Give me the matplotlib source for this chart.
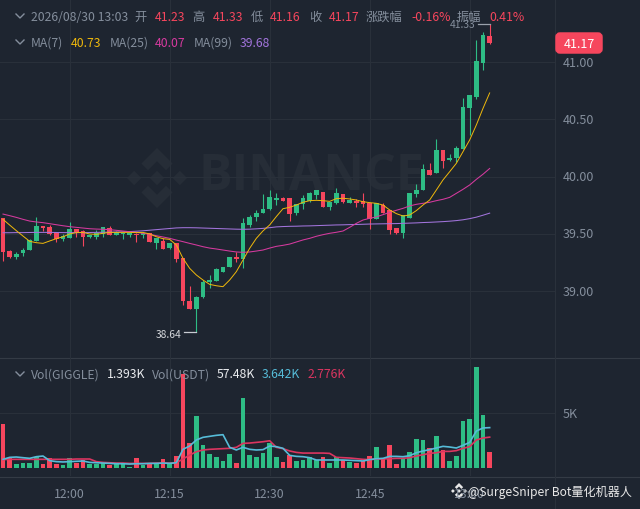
import matplotlib

matplotlib.use("Agg")
import matplotlib.pyplot as plt
from matplotlib.lines import Line2D
from matplotlib.patches import FancyBboxPatch, Polygon

plt.rcParams["font.family"] = ["Noto Sans CJK SC", "DejaVu Sans"]

# candles, one per minute, 11:50 to 13:03
opens = [39.64, 39.35, 39.30, 39.33, 39.358, 39.44, 39.57, 39.557, 39.51, 39.45,
         39.46, 39.54, 39.527, 39.47, 39.47, 39.50, 39.55, 39.49, 39.495, 39.489,
         39.497, 39.489, 39.503, 39.417, 39.44, 39.378, 39.416, 39.285, 38.91, 38.843,
         38.95, 39.078, 39.09, 39.169, 39.21, 39.30, 39.28, 39.573, 39.649, 39.684,
         39.72, 39.792, 39.812, 39.81, 39.679, 39.757, 39.789, 39.839, 39.868, 39.731,
         39.766, 39.847, 39.772, 39.789, 39.783, 39.766, 39.629, 39.751, 39.708, 39.547,
         39.51, 39.641, 39.847, 39.882, 40.057, 40.03, 40.23, 40.14, 40.158, 40.24,
         40.60, 40.697, 40.988, 41.23]
highs = [39.64, 39.36, 39.34, 39.38, 39.45, 39.643, 39.572, 39.577, 39.51, 39.495,
         39.605, 39.54, 39.53, 39.49, 39.532, 39.562, 39.567, 39.52, 39.51, 39.505,
         39.51, 39.505, 39.51, 39.465, 39.465, 39.42, 39.42, 39.29, 39.04, 38.956,
         39.096, 39.14, 39.198, 39.21, 39.30, 39.338, 39.635, 39.664, 39.707, 39.847,
         39.885, 39.859, 39.824, 39.81, 39.757, 39.836, 39.868, 39.882, 39.868, 39.78,
         39.897, 39.85, 39.818, 39.80, 39.853, 39.766, 39.77, 39.766, 39.71, 39.55,
         39.664, 39.86, 39.935, 40.106, 40.115, 40.325, 40.23, 40.193, 40.267, 40.69,
         40.715, 41.192, 41.265, 41.33]
lows = [39.26, 39.285, 39.28, 39.31, 39.358, 39.44, 39.527, 39.49, 39.425, 39.44,
        39.46, 39.475, 39.396, 39.466, 39.454, 39.475, 39.489, 39.49, 39.454, 39.475,
        39.43, 39.465, 39.43, 39.367, 39.37, 39.37, 39.256, 38.878, 38.84, 38.64,
        38.94, 39.03, 39.09, 39.169, 39.21, 39.256, 39.204, 39.556, 39.614, 39.684,
        39.707, 39.751, 39.783, 39.615, 39.664, 39.714, 39.78, 39.801, 39.731, 39.708,
        39.76, 39.766, 39.766, 39.737, 39.731, 39.542, 39.629, 39.679, 39.498, 39.50,
        39.466, 39.64, 39.824, 39.88, 40.01, 40.03, 40.077, 40.135, 40.124, 40.24,
        40.362, 40.674, 40.93, 41.16]
closes = [39.34, 39.30, 39.32, 39.36, 39.445, 39.57, 39.553, 39.50, 39.454, 39.48,
          39.54, 39.512, 39.474, 39.489, 39.503, 39.556, 39.489, 39.518, 39.51, 39.503,
          39.49, 39.503, 39.43, 39.46, 39.37, 39.416, 39.28, 38.915, 38.84, 38.95,
          39.078, 39.10, 39.19, 39.207, 39.30, 39.28, 39.59, 39.649, 39.684, 39.72,
          39.818, 39.81, 39.789, 39.673, 39.757, 39.81, 39.859, 39.879, 39.731, 39.78,
          39.859, 39.78, 39.795, 39.772, 39.76, 39.629, 39.766, 39.684, 39.533, 39.504,
          39.664, 39.859, 39.882, 40.065, 40.01, 40.23, 40.138, 40.158, 40.246, 40.61,
          40.712, 41.009, 41.239, 41.17]

ma7 = [39.626, 39.576, 39.527, 39.48, 39.434, 39.422, 39.416, 39.437, 39.457, 39.474,
       39.498, 39.51, 39.512, 39.498, 39.495, 39.504, 39.512, 39.512, 39.512, 39.512,
       39.51, 39.512, 39.498, 39.474, 39.457, 39.451, 39.402, 39.285, 39.198, 39.14,
       39.096, 39.058, 39.046, 39.038, 39.096, 39.169, 39.271, 39.373, 39.46, 39.525,
       39.577, 39.65, 39.719, 39.731, 39.751, 39.775, 39.789, 39.792, 39.789, 39.783,
       39.807, 39.81, 39.804, 39.795, 39.78, 39.772, 39.766, 39.751, 39.708, 39.676,
       39.655, 39.664, 39.702, 39.751, 39.795, 39.882, 39.97, 40.042, 40.115, 40.217,
       40.319, 40.45, 40.595, 40.73]
ma25 = [39.672, 39.658, 39.643, 39.626, 39.611, 39.603, 39.597, 39.588, 39.579, 39.57,
        39.562, 39.556, 39.55, 39.544, 39.541, 39.539, 39.536, 39.53, 39.524, 39.518,
        39.512, 39.504, 39.495, 39.483, 39.472, 39.46, 39.445, 39.431, 39.416, 39.402,
        39.387, 39.375, 39.367, 39.358, 39.349, 39.341, 39.338, 39.341, 39.349, 39.358,
        39.375, 39.39, 39.399, 39.41, 39.428, 39.446, 39.46, 39.478, 39.492, 39.504,
        39.513, 39.524, 39.556, 39.591, 39.62, 39.635, 39.647, 39.667, 39.687, 39.705,
        39.722, 39.743, 39.757, 39.766, 39.775, 39.789, 39.801, 39.818, 39.853, 39.888,
        39.926, 39.975, 40.02, 40.07]
ma99 = [39.509, 39.509, 39.51, 39.51, 39.511, 39.512, 39.512, 39.512, 39.511, 39.51,
        39.51, 39.51, 39.51, 39.511, 39.512, 39.513, 39.514, 39.515, 39.517, 39.519,
        39.522, 39.526, 39.531, 39.536, 39.541, 39.546, 39.551, 39.553, 39.553, 39.552,
        39.55, 39.548, 39.546, 39.544, 39.542, 39.54, 39.539, 39.54, 39.543, 39.547,
        39.553, 39.56, 39.563, 39.565, 39.566, 39.568, 39.569, 39.571, 39.573, 39.575,
        39.577, 39.578, 39.58, 39.581, 39.583, 39.585, 39.586, 39.587, 39.588, 39.589,
        39.591, 39.593, 39.595, 39.598, 39.6, 39.603, 39.606, 39.61, 39.615, 39.622,
        39.632, 39.645, 39.662, 39.68]

# volume in thousands
volumes = [3.97, 0.85, 0.30, 0.39, 0.45, 1.0, 0.30, 0.85, 0.33, 0.24,
           0.85, 0.45, 0.70, 0.30, 0.33, 0.39, 0.24, 0.30, 0.33, 0.10,
           0.85, 0.24, 0.30, 0.33, 0.76, 0.30, 1.09, 8.5, 2.2, 4.7,
           2.06, 1.24, 0.97, 0.64, 1.24, 0.45, 6.3, 1.15, 1.0, 1.36,
           2.2, 0.94, 0.48, 1.15, 0.58, 0.70, 0.94, 0.70, 0.94, 0.45,
           0.94, 0.70, 0.50, 0.42, 0.64, 1.06, 1.85, 0.76, 2.06, 0.30,
           0.76, 1.39, 2.58, 2.52, 1.82, 2.88, 1.6, 0.64, 1.06, 4.27,
           4.42, 9.12, 4.79, 1.393]
vol_fast = [0.76, 0.94, 0.97, 0.91, 0.85, 1.0, 1.06, 0.64, 0.55, 0.52,
            0.55, 0.58, 0.61, 0.48, 0.45, 0.42, 0.39, 0.36, 0.36, 0.33,
            0.36, 0.36, 0.39, 0.39, 0.42, 0.39, 0.45, 1.67, 1.97, 2.52,
            2.76, 2.85, 2.94, 3.0, 1.85, 1.61, 1.85, 1.67, 1.61, 1.64,
            1.97, 1.91, 1.76, 1.12, 1.03, 1.0, 0.91, 0.70, 0.70, 0.70,
            0.70, 0.70, 0.67, 0.64, 0.61, 0.73, 0.82, 0.85, 1.03, 1.03,
            1.0, 1.09, 1.36, 1.52, 1.64, 1.79, 1.94, 1.88, 1.79, 2.03,
            2.3, 3.33, 3.61, 3.642]
vol_slow = [0.73, 0.76, 0.76, 0.76, 0.76, 0.76, 0.76, 0.76, 0.76, 0.76,
            0.76, 0.79, 0.79, 0.79, 0.55, 0.48, 0.45, 0.42, 0.42, 0.39,
            0.39, 0.39, 0.39, 0.42, 0.42, 0.42, 0.45, 0.79, 1.15, 1.45,
            1.61, 1.67, 1.70, 1.73, 1.76, 1.85, 2.21, 2.24, 2.30, 2.36,
            2.45, 1.85, 1.73, 1.52, 1.39, 1.33, 1.33, 1.33, 1.33, 1.30,
            0.94, 0.91, 0.88, 0.82, 0.76, 0.73, 0.79, 0.79, 0.82, 0.85,
            0.85, 0.91, 1.06, 1.18, 1.30, 1.36, 1.48, 1.48, 1.55, 1.76,
            1.91, 2.52, 2.70, 2.776]

price_ticks = [39.0, 39.5, 40.0, 40.5, 41.0]
time_ticks = [10, 25, 40, 55, 70]
time_labels = ["12:00", "12:15", "12:30", "12:45", "13:00"]

BG = "#1e2530"
GRID = "#2a313b"
LINE = "#343b45"
MUTED = "#848e9c"
UP = "#2ebd85"
DOWN = "#f6465d"
YELLOW = "#f0b90b"
PINK = "#d63a9f"
PURPLE = "#a274dc"
CYAN = "#56bcd8"
VOL_RED = "#db3560"
MARK = "#262d37"

W, H = 640, 509
fig = plt.figure(figsize=(W / 100, H / 100), dpi=100, facecolor=BG)


def px_axes(left, top, right, bottom, z):
    return fig.add_axes(
        [left / W, 1 - bottom / H, (right - left) / W, (bottom - top) / H], zorder=z
    )


def chevron(ax, x, y):
    ax.plot([x, x + 4, x + 8], [y - 2, y + 2, y - 2], color=MUTED, lw=1)


def diamond(ax, cx, cy, s, color):
    ax.add_patch(Polygon([(cx - s, cy), (cx, cy - s), (cx + s, cy), (cx, cy + s)], color=color, lw=0))


def binance_mark(ax, cx, cy, r, color):
    # square in the middle, side squares, and the chevrons above and below
    s = r * 0.24
    diamond(ax, cx, cy, s, color)
    diamond(ax, cx - r * 0.76, cy, s, color)
    diamond(ax, cx + r * 0.76, cy, s, color)
    a, t = r * 0.52, r * 0.22
    for sy in (-1, 1):
        ax.add_patch(Polygon(
            [(cx - a, cy + sy * (r - a)), (cx, cy + sy * r), (cx + a, cy + sy * (r - a)),
             (cx + a - t, cy + sy * (r - a - t)), (cx, cy + sy * (r - 2 * t)),
             (cx - a + t, cy + sy * (r - a - t))], color=color, lw=0))


# background layer: separators and watermark
back = px_axes(0, 0, W, H, 0)
back.set_xlim(0, W)
back.set_ylim(H, 0)
back.axis("off")
back.add_line(Line2D([0, W], [358, 358], color=LINE, lw=0.8))
back.add_line(Line2D([0, W], [476.5, 476.5], color=LINE, lw=0.8))
back.add_line(Line2D([555, 555], [0, H], color=GRID, lw=0.8))
binance_mark(back, 157, 178, 30, MARK)
back.text(311, 177, "BINANCE", color=MARK, fontsize=36, fontweight="bold",
          family="Open Sans", ha="center", va="center")

# price panel
ax = px_axes(0, 0, 555, 358, 1)
ax.patch.set_alpha(0)
ax.set_xlim(-0.45, 82.8)
ax.set_ylim(38.415, 41.5415)
ax.set_xticks(time_ticks)
ax.set_yticks(price_ticks)
ax.tick_params(left=False, bottom=False, labelleft=False, labelbottom=False)
ax.grid(True, color=GRID, lw=0.7)
ax.set_axisbelow(True)
for s in ax.spines.values():
    s.set_visible(False)

for i in range(len(opens)):
    color = UP if closes[i] >= opens[i] else DOWN
    ax.vlines(i, lows[i], highs[i], color=color, lw=0.8, zorder=2)
    ax.bar(i, abs(closes[i] - opens[i]), bottom=min(opens[i], closes[i]), width=0.72,
           color=color, lw=0, zorder=3)

x_idx = list(range(len(opens)))
ax.plot(x_idx, ma99, color=PURPLE, lw=0.75, zorder=4)
ax.plot(x_idx, ma25, color=PINK, lw=0.75, zorder=4)
ax.plot(x_idx, ma7, color=YELLOW, lw=0.7, zorder=4)

# high and low markers
ax.plot([71.3, 73], [41.33, 41.33], color="#9aa1ab", lw=0.9, zorder=4)
ax.plot([27.15, 29], [38.64, 38.64], color="#c8ccd2", lw=0.9, zorder=4)

# volume panel
vol = px_axes(0, 358, 555, 476, 1)
vol.patch.set_alpha(0)
vol.set_xlim(-0.45, 82.8)
vol.set_ylim(-0.755, 9.97)
vol.set_xticks(time_ticks)
vol.set_yticks([5])
vol.tick_params(left=False, bottom=False, labelleft=False, labelbottom=False)
vol.grid(True, color=GRID, lw=0.7)
vol.set_axisbelow(True)
for s in vol.spines.values():
    s.set_visible(False)
bar_colors = [UP if c >= o else DOWN for o, c in zip(opens, closes)]
vol.bar(x_idx, volumes, width=0.68, color=bar_colors, lw=0, zorder=2)
vol.plot(x_idx, vol_slow, color=VOL_RED, lw=1.2, zorder=3)
vol.plot(x_idx, vol_fast, color=CYAN, lw=1.2, zorder=3)

# text layer
top = px_axes(0, 0, W, H, 2)
top.set_xlim(0, W)
top.set_ylim(H, 0)
top.axis("off")
top.patch.set_alpha(0)

FS = 8.8


def label(x, y, s, color=MUTED, size=FS, ha="left"):
    top.text(x, y + 1, s, color=color, fontsize=size, ha=ha, va="center")


chevron(top, 16, 16)
chevron(top, 16, 42)
chevron(top, 16, 374)

row1 = [(31, "2026/08/30 13:03", MUTED), (134, "开", MUTED), (155, "41.23", DOWN),
        (192, "高", MUTED), (213, "41.33", DOWN), (251, "低", MUTED), (270, "41.16", DOWN),
        (309, "收", MUTED), (329, "41.17", DOWN), (366, "涨跌幅", MUTED),
        (411, "-0.16%", DOWN), (457, "振幅", MUTED), (489, "0.41%", DOWN)]
for x, s, c in row1:
    label(x, 16, s, c)

row2 = [(31, "MA(7)", MUTED), (71, "40.73", YELLOW), (110, "MA(25)", MUTED),
        (155, "40.07", PINK), (194, "MA(99)", MUTED), (240, "39.68", PURPLE)]
for x, s, c in row2:
    label(x, 42, s, c)

row3 = [(31, "Vol(GIGGLE)", MUTED), (107, "1.393K", "#eaecef"), (152, "Vol(USDT)", MUTED),
        (217, "57.48K", "#eaecef"), (262, "3.642K", CYAN), (308, "2.776K", VOL_RED)]
for x, s, c in row3:
    label(x, 374, s, c)

for p, s in zip(price_ticks, ["39.00", "39.50", "40.00", "40.50", "41.00"]):
    label(563, 62 + (41 - p) * 114.5, s, size=9)
label(563, 413, "5K", size=9)

for t, s in zip(time_ticks, time_labels):
    label(3 + t * 6.667, 494, s, ha="center")

label(475, 24, "41.33", "#848e9c", 7.4, ha="right")
label(181, 334, "38.64", "#d5d8dc", 7.4, ha="right")

top.add_patch(FancyBboxPatch((557, 34), 44, 18, boxstyle="round,pad=0,rounding_size=3",
                             facecolor=DOWN, edgecolor=DOWN, lw=2.5))
label(579, 43, "41.17", "#ffffff", size=9, ha="center")

# repost credit bottom right
binance_mark(top, 459, 491, 8, "#e8e8e8")
label(468, 491, "@SurgeSniper Bot量化机器人", "#e8e8e8", 8.7)

fig.savefig("out.png", dpi=100, facecolor=BG)
